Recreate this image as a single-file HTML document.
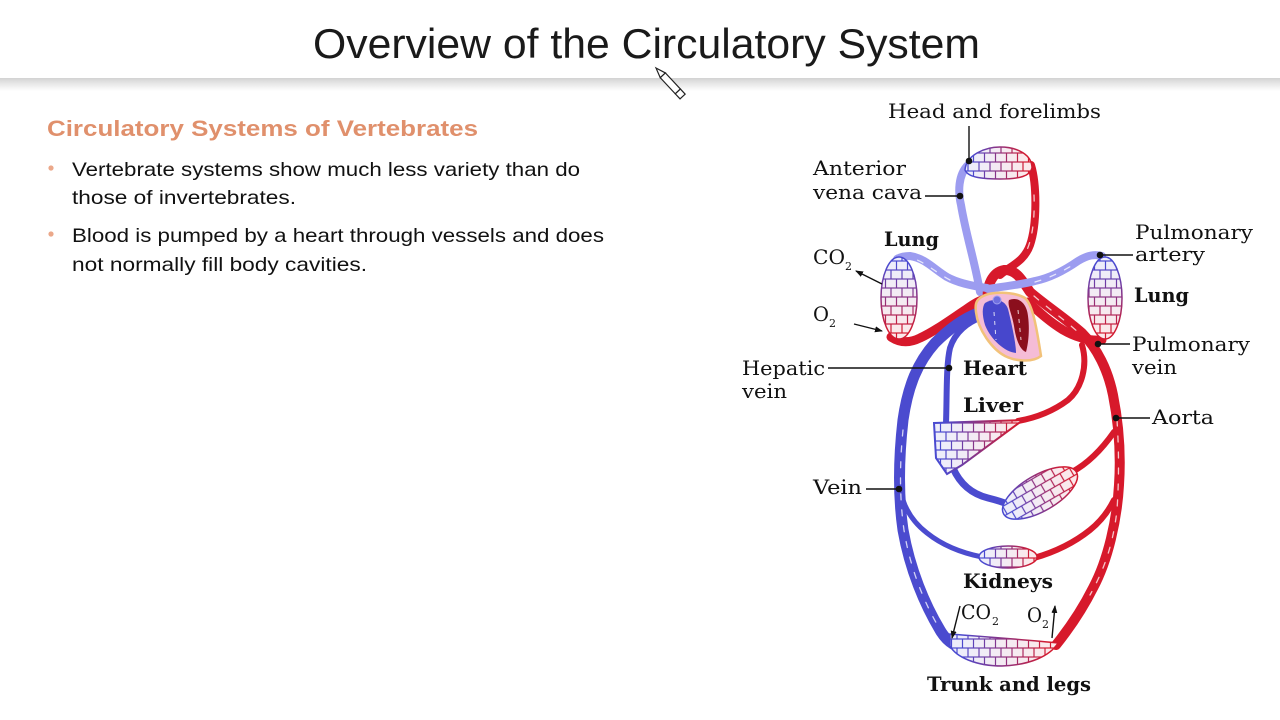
<!DOCTYPE html>
<html><head><meta charset="utf-8"><style>
html,body{margin:0;padding:0;background:#fff;}
svg{display:block;}
</style></head><body>
<svg width="1280" height="720" viewBox="0 0 1280 720" xmlns="http://www.w3.org/2000/svg">
<defs>
<linearGradient id="shadow" x1="0" y1="0" x2="0" y2="1">
<stop offset="0" stop-color="#d2d2d2"/><stop offset="0.4" stop-color="#e6e6e6"/><stop offset="1" stop-color="#ffffff"/>
</linearGradient>
<linearGradient id="gH" x1="0" y1="0" x2="1" y2="0">
<stop offset="0.1" stop-color="#4a4ad0"/><stop offset="0.9" stop-color="#d21a30"/>
</linearGradient>
<linearGradient id="gV" x1="0" y1="0" x2="0" y2="1">
<stop offset="0.1" stop-color="#4a4ad0"/><stop offset="0.9" stop-color="#d21a30"/>
</linearGradient>
<pattern id="mesh" patternUnits="userSpaceOnUse" width="11" height="18">
<rect x="0.6" y="0.6" width="9.8" height="7.8" fill="#fff" opacity="0.9"/>
<rect x="-4.9" y="9.6" width="9.8" height="7.8" fill="#fff" opacity="0.9"/>
<rect x="6.1" y="9.6" width="9.8" height="7.8" fill="#fff" opacity="0.9"/>
</pattern>
<marker id="ah" markerWidth="8" markerHeight="8" refX="7" refY="4" orient="auto" markerUnits="userSpaceOnUse">
<path d="M0,1 L8,4 L0,7 Z" fill="#111"/>
</marker>
</defs>

<!-- header -->
<rect x="0" y="0" width="1280" height="78" fill="#fff"/>
<rect x="0" y="78" width="1280" height="13" fill="url(#shadow)"/>
<text x="313" y="58" font-family="Liberation Sans, sans-serif" font-size="42" fill="#1a1a1a" textLength="667" lengthAdjust="spacingAndGlyphs">Overview of the Circulatory System</text>

<!-- pencil cursor -->
<g transform="translate(656,68) rotate(47)" stroke="#222" stroke-width="1.2" fill="#fff">
<path d="M0,0 L10,-3.5 L10,3.5 Z"/>
<rect x="10" y="-3.5" width="22" height="7"/>
<rect x="32" y="-3.5" width="7" height="7"/>
</g>

<!-- left text -->
<text x="47" y="136" font-family="Liberation Sans, sans-serif" font-weight="bold" font-size="22" fill="#e0906c" textLength="431" lengthAdjust="spacingAndGlyphs">Circulatory Systems of Vertebrates</text>
<circle cx="51" cy="168" r="2.6" fill="#eba88a"/>
<circle cx="51" cy="234" r="2.6" fill="#eba88a"/>
<g font-family="Liberation Sans, sans-serif" font-size="19.5" fill="#111">
<text x="72" y="176" textLength="508" lengthAdjust="spacingAndGlyphs">Vertebrate systems show much less variety than do</text>
<text x="72" y="204" textLength="224" lengthAdjust="spacingAndGlyphs">those of invertebrates.</text>
<text x="72" y="242" textLength="532" lengthAdjust="spacingAndGlyphs">Blood is pumped by a heart through vessels and does</text>
<text x="72" y="271" textLength="295" lengthAdjust="spacingAndGlyphs">not normally fill body cavities.</text>
</g>

<!-- ========== DIAGRAM ========== -->
<g fill="none" stroke-linecap="round" stroke-linejoin="round">
<!-- anterior vena cava -->
<path d="M968,165 C958,175 958,192 961,205 C966,235 975,262 980,292" stroke="#9c9cf0" stroke-width="8"/>
<!-- head artery -->
<path d="M1031,165 C1037,185 1037,225 1030,245 C1024,262 1010,266 1000,275" stroke="#d7192b" stroke-width="8"/>
<!-- pulmonary veins (red) -->
<path d="M891,337 C900,343 910,343 920,338 C935,331 950,320 965,310 C972,305 978,301 985,299" stroke="#d7192b" stroke-width="9"/>
<path d="M1102,340 C1088,341 1075,337 1063,330 C1050,322 1040,313 1028,302" stroke="#d7192b" stroke-width="9"/>
<!-- aorta -->
<path d="M988,300 C986,285 993,272 1004,270 C1016,269 1022,280 1030,292 C1045,305 1065,318 1082,333 C1097,348 1108,370 1113,395 C1119,425 1121,455 1119,485 C1117,520 1108,560 1093,588 C1082,610 1068,630 1056,645" stroke="#d7192b" stroke-width="10"/>
<!-- liver artery -->
<path d="M1082,345 C1088,365 1082,388 1068,400 C1052,412 1035,418 1018,421" stroke="#d7192b" stroke-width="6"/>
<!-- gut artery -->
<path d="M1072,472 C1085,465 1100,452 1114,432" stroke="#d7192b" stroke-width="6"/>
<!-- kidney artery -->
<path d="M1034,558 C1055,552 1075,542 1090,530 C1100,522 1108,512 1114,500" stroke="#d7192b" stroke-width="6"/>
<!-- pulmonary arteries (light blue) -->
<path d="M987,288 C972,286 958,283 947,277 C935,270 925,258 910,256 C905,256 900,257 897,259" stroke="#9c9cf0" stroke-width="8"/>
<path d="M988,289 C1005,286 1020,285 1035,281 C1050,278 1065,270 1078,261 C1088,255 1095,254 1102,256" stroke="#9c9cf0" stroke-width="8"/>
<!-- main vein -->
<path d="M978,313 C965,318 950,328 935,343 C918,362 908,385 903,420 C899,455 898,495 903,530 C910,570 925,605 940,630 C944,637 948,641 953,644" stroke="#4b4bcf" stroke-width="11"/>
<!-- hepatic vein -->
<path d="M982,317 C968,322 955,332 950,348 C946,365 947,395 946,423" stroke="#4b4bcf" stroke-width="6"/>
<!-- hepatic portal vein -->
<path d="M953,468 C960,484 972,494 988,498 C996,500 1003,502 1010,505" stroke="#4b4bcf" stroke-width="7"/>
<!-- kidney vein -->
<path d="M982,557 C962,553 942,545 927,533 C914,523 907,512 903,500" stroke="#4b4bcf" stroke-width="5"/>

<!-- highlights -->
<g stroke="#fff" stroke-width="1.3" opacity="0.75" stroke-dasharray="6 10">
<path d="M903,430 C900,460 899,495 904,530 C910,568 924,602 938,626"/>
<path d="M1117,420 C1119,450 1119,480 1117,510 C1113,545 1104,570 1090,595"/>
<path d="M1034,296 C1050,310 1068,322 1082,336"/>
<path d="M950,280 C935,272 925,262 912,258"/>
<path d="M1035,282 C1050,278 1065,270 1078,262"/>
<path d="M1034,195 C1035,220 1032,240 1026,252"/>
</g>
</g>

<!-- capillary beds -->
<g>
<path d="M965,170 C966,155 985,147 1000,147 C1018,147 1032,155 1032,168 C1030,176 1020,179 1000,179 C985,179 968,178 965,170 Z" fill="url(#gH)"/>
<path d="M965,170 C966,155 985,147 1000,147 C1018,147 1032,155 1032,168 C1030,176 1020,179 1000,179 C985,179 968,178 965,170 Z" fill="url(#mesh)" stroke="url(#gH)" stroke-width="1.5"/>
<ellipse cx="899" cy="298" rx="18" ry="41" fill="url(#gV)"/>
<ellipse cx="899" cy="298" rx="18" ry="41" fill="url(#mesh)" stroke="url(#gV)" stroke-width="1.5"/>
<ellipse cx="1105" cy="298" rx="17" ry="41" fill="url(#gV)"/>
<ellipse cx="1105" cy="298" rx="17" ry="41" fill="url(#mesh)" stroke="url(#gV)" stroke-width="1.5"/>
<path d="M934,423 L1023,420 L962,465 L947,474 L936,458 Z" fill="url(#gH)"/>
<path d="M934,423 L1023,420 L962,465 L947,474 L936,458 Z" fill="url(#mesh)" stroke="url(#gH)" stroke-width="2"/>
<ellipse cx="1040" cy="493" rx="42" ry="18" transform="rotate(-30 1040 493)" fill="url(#gH)"/>
<ellipse cx="1040" cy="493" rx="42" ry="18" transform="rotate(-30 1040 493)" fill="url(#mesh)" stroke="url(#gH)" stroke-width="1.5"/>
<ellipse cx="1008" cy="557" rx="29" ry="11" fill="url(#gH)"/>
<ellipse cx="1008" cy="557" rx="29" ry="11" fill="url(#mesh)" stroke="url(#gH)" stroke-width="1.5"/>
<path d="M950,634 C975,636 1030,640 1058,643 C1050,656 1030,665 1002,666 C976,666 956,657 950,646 Z" fill="url(#gH)"/>
<path d="M950,634 C975,636 1030,640 1058,643 C1050,656 1030,665 1002,666 C976,666 956,657 950,646 Z" fill="url(#mesh)" stroke="url(#gH)" stroke-width="1.5"/>
</g>

<!-- heart -->
<g>
<path d="M980,298 C990,290 1015,292 1025,298 C1033,305 1037,330 1041,356 C1032,363 1015,361 1005,356 C992,349 978,330 976,312 C975,305 976,301 980,298 Z" fill="#f5bcd6" stroke="#f2c27a" stroke-width="2.5"/>
<path d="M985,303 C995,297 1005,300 1008,309 C1012,325 1016,344 1016,353 C1005,352 991,340 985,325 C982,315 982,307 985,303 Z" fill="#4747cc"/>
<path d="M1009,300 C1019,296 1027,304 1028,316 C1030,331 1028,345 1026,352 C1020,350 1016,340 1014,326 C1012,314 1007,305 1009,300 Z" fill="#8b0f1d"/>
<circle cx="997" cy="300" r="4" fill="#7070e0" stroke="#a0a0f0" stroke-width="1"/>
<path d="M994,312 L996,340 M1018,310 L1021,340" stroke="#fff" stroke-width="1" stroke-dasharray="4 5" opacity="0.8"/>
</g>

<!-- leader lines and dots -->
<g stroke="#111" stroke-width="1.4" fill="none">
<line x1="969" y1="126" x2="969" y2="161"/>
<line x1="925" y1="196" x2="960" y2="196"/>
<line x1="1100" y1="255" x2="1133" y2="255"/>
<line x1="1098" y1="344" x2="1130" y2="344"/>
<line x1="828" y1="368" x2="949" y2="368"/>
<line x1="1116" y1="418" x2="1150" y2="418"/>
<line x1="866" y1="489" x2="899" y2="489"/>
<line x1="882" y1="284" x2="856" y2="271" marker-end="url(#ah)"/>
<line x1="854" y1="324" x2="882" y2="331" marker-end="url(#ah)"/>
<line x1="960" y1="606" x2="952" y2="638" marker-end="url(#ah)"/>
<line x1="1052" y1="638" x2="1055" y2="606" marker-end="url(#ah)"/>
</g>
<g fill="#111">
<circle cx="969" cy="161" r="3.3"/>
<circle cx="960" cy="196" r="3.3"/>
<circle cx="1100" cy="255" r="3.3"/>
<circle cx="1098" cy="344" r="3.3"/>
<circle cx="949" cy="368" r="3.3"/>
<circle cx="1116" cy="418" r="3.3"/>
<circle cx="899" cy="489" r="3.3"/>
</g>

<!-- labels -->
<g font-family="DejaVu Serif, Liberation Serif, serif" font-size="20" fill="#111">
<text x="888" y="118" textLength="213" lengthAdjust="spacingAndGlyphs">Head and forelimbs</text>
<text x="813" y="175" textLength="93" lengthAdjust="spacingAndGlyphs">Anterior</text>
<text x="813" y="199" textLength="109" lengthAdjust="spacingAndGlyphs">vena cava</text>
<text x="813" y="264" textLength="32" lengthAdjust="spacingAndGlyphs">CO</text>
<text x="845" y="270" font-size="11">2</text>
<text x="813" y="321" textLength="16" lengthAdjust="spacingAndGlyphs">O</text>
<text x="829" y="327" font-size="11">2</text>
<text x="1135" y="239" textLength="118" lengthAdjust="spacingAndGlyphs">Pulmonary</text>
<text x="1135" y="261" textLength="70" lengthAdjust="spacingAndGlyphs">artery</text>
<text x="1132" y="351" textLength="118" lengthAdjust="spacingAndGlyphs">Pulmonary</text>
<text x="1132" y="374" textLength="45" lengthAdjust="spacingAndGlyphs">vein</text>
<text x="742" y="375" textLength="83" lengthAdjust="spacingAndGlyphs">Hepatic</text>
<text x="742" y="398" textLength="45" lengthAdjust="spacingAndGlyphs">vein</text>
<text x="1152" y="424" textLength="62" lengthAdjust="spacingAndGlyphs">Aorta</text>
<text x="813" y="494" textLength="49" lengthAdjust="spacingAndGlyphs">Vein</text>
<text x="961" y="619" textLength="30" lengthAdjust="spacingAndGlyphs">CO</text>
<text x="992" y="625" font-size="11">2</text>
<text x="1027" y="622" textLength="15" lengthAdjust="spacingAndGlyphs">O</text>
<text x="1042" y="628" font-size="11">2</text>
</g>
<g font-family="DejaVu Serif, Liberation Serif, serif" font-size="20" font-weight="bold" fill="#111">
<text x="884" y="246" textLength="55" lengthAdjust="spacingAndGlyphs">Lung</text>
<text x="1134" y="302" textLength="55" lengthAdjust="spacingAndGlyphs">Lung</text>
<text x="963" y="375" textLength="64" lengthAdjust="spacingAndGlyphs">Heart</text>
<text x="963" y="412" textLength="60" lengthAdjust="spacingAndGlyphs">Liver</text>
<text x="963" y="588" textLength="90" lengthAdjust="spacingAndGlyphs">Kidneys</text>
<text x="927" y="691" textLength="164" lengthAdjust="spacingAndGlyphs">Trunk and legs</text>
</g>
</svg>
</body></html>
